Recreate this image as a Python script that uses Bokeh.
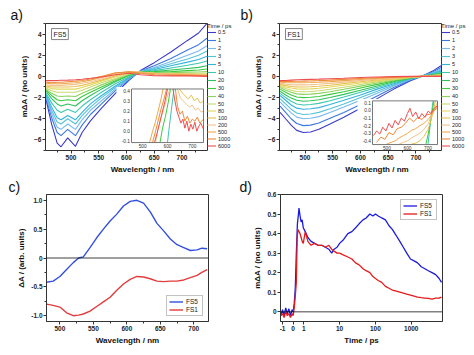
import numpy as np
from bokeh.plotting import figure
from bokeh.models import (Range1d, Legend, LegendItem, Label, FixedTicker, SingleIntervalTicker,
                          Span, CustomJSTickFormatter)
from bokeh.layouts import row, column
from bokeh.embed import file_html
from bokeh.resources import INLINE
from bokeh.core.properties import value

FONT = "Liberation Sans"

# ---------------- data: panels a / b (transient spectra) ----------------
time_labels = ["0.5", "1", "2", "3", "5", "10", "20", "30", "40", "50", "80", "100", "200", "500", "1000", "6000"]
trace_colors = ["#3a3acb", "#3b78dc", "#78b9ef", "#55c3d8", "#36b3dd", "#3fc6b0", "#2fc35a", "#3ccb3c",
                "#8ed25e", "#c6da6e", "#e3d85c", "#e8c24e", "#f1c38e", "#f0a84c", "#ef8a3a", "#ef4f4f"]

wl_a = [455, 465, 475, 482, 494, 508, 520, 535, 555, 580, 605, 625, 650, 680, 710, 730, 745]
fs5_0p5 = [-2.2, -4.5, -6.3, -6.65, -5.8, -6.6, -5.3, -4.2, -3.0, -1.6, -0.35, 0.55, 1.3, 2.3, 3.4, 4.1, 5.0]
fs5_1 = [-2.0, -3.9, -5.3, -5.6, -5.0, -5.6, -4.6, -3.6, -2.6, -1.35, -0.25, 0.5, 1.0, 1.7, 2.5, 3.0, 3.6]
fs5_2 = [-1.9, -3.5, -4.8, -5.0, -4.5, -5.0, -4.1, -3.2, -2.3, -1.2, -0.2, 0.48, 0.85, 1.4, 2.0, 2.4, 2.9]
fs5_3 = [-1.8, -3.2, -4.3, -4.5, -4.0, -4.5, -3.7, -2.9, -2.0, -1.05, -0.15, 0.45, 0.75, 1.2, 1.65, 2.0, 2.4]
fs5_5 = [-1.7, -2.9, -3.9, -4.1, -3.7, -4.1, -3.4, -2.6, -1.8, -0.9, -0.1, 0.42, 0.65, 1.0, 1.35, 1.6, 1.9]
fs5_10 = [-1.6, -2.5, -3.2, -3.4, -3.1, -3.4, -2.8, -2.2, -1.5, -0.7, 0.0, 0.4, 0.55, 0.8, 1.05, 1.25, 1.45]
fs5_20 = [-1.4, -2.1, -2.6, -2.8, -2.6, -2.8, -2.3, -1.8, -1.2, -0.5, 0.1, 0.4, 0.45, 0.6, 0.75, 0.85, 1.0]
fs5_30 = [-1.3, -1.8, -2.2, -2.3, -2.2, -2.3, -1.9, -1.5, -1.0, -0.4, 0.15, 0.4, 0.4, 0.45, 0.55, 0.6, 0.7]
fs5_40 = [-1.2, -1.6, -1.85, -1.9, -1.85, -1.9, -1.6, -1.25, -0.8, -0.3, 0.2, 0.4, 0.35, 0.35, 0.4, 0.42, 0.45]
fs5_50 = [-1.1, -1.35, -1.5, -1.5, -1.5, -1.5, -1.3, -1.0, -0.6, -0.2, 0.25, 0.4, 0.3, 0.27, 0.28, 0.3, 0.3]
fs5_80 = [-1.0, -1.15, -1.2, -1.2, -1.2, -1.2, -1.05, -0.8, -0.45, -0.05, 0.35, 0.4, 0.3, 0.25, 0.22, 0.2, 0.2]
fs5_100 = [-0.9, -1.0, -1.0, -1.0, -1.0, -0.95, -0.85, -0.65, -0.35, 0.05, 0.4, 0.4, 0.3, 0.25, 0.2, 0.17, 0.15]
fs5_200 = [-0.8, -0.85, -0.85, -0.85, -0.8, -0.75, -0.65, -0.5, -0.25, 0.15, 0.45, 0.4, 0.3, 0.25, 0.22, 0.15, 0.1]
fs5_500 = [-0.65, -0.7, -0.7, -0.7, -0.65, -0.6, -0.5, -0.35, -0.1, 0.3, 0.45, 0.35, 0.25, 0.2, 0.15, 0.1, 0.06]
fs5_1000 = [-0.55, -0.6, -0.55, -0.55, -0.5, -0.45, -0.38, -0.25, 0.0, 0.35, 0.42, 0.3, 0.15, 0.12, 0.1, 0.08, 0.05]
fs5_6000 = [-0.4, -0.4, -0.38, -0.37, -0.35, -0.32, -0.27, -0.18, -0.05, 0.15, 0.3, 0.15, 0.06, 0.05, 0.05, 0.03, 0.0]
fs5_spectra = [fs5_0p5, fs5_1, fs5_2, fs5_3, fs5_5, fs5_10, fs5_20, fs5_30, fs5_40, fs5_50,
               fs5_80, fs5_100, fs5_200, fs5_500, fs5_1000, fs5_6000]

wl_b = [455, 465, 475, 485, 497, 510, 525, 545, 570, 600, 630, 660, 690, 712, 730, 745]
fs1_0p5 = [-3.4, -4.0, -4.6, -5.1, -5.3, -5.25, -5.0, -4.5, -3.85, -3.0, -2.1, -1.2, -0.4, 0.05, 0.5, 1.0]
fs1_1 = [-2.8, -3.4, -4.0, -4.45, -4.65, -4.6, -4.4, -3.95, -3.4, -2.65, -1.85, -1.05, -0.35, 0.05, 0.42, 0.85]
fs1_2 = [-2.4, -2.95, -3.45, -3.85, -4.0, -3.95, -3.8, -3.4, -2.9, -2.25, -1.6, -0.9, -0.3, 0.05, 0.35, 0.7]
fs1_3 = [-2.1, -2.6, -3.1, -3.45, -3.6, -3.55, -3.4, -3.05, -2.6, -2.0, -1.4, -0.8, -0.25, 0.04, 0.3, 0.6]
fs1_5 = [-1.8, -2.25, -2.7, -3.0, -3.1, -3.05, -2.95, -2.65, -2.25, -1.75, -1.2, -0.7, -0.22, 0.03, 0.25, 0.5]
fs1_10 = [-1.6, -2.0, -2.35, -2.6, -2.7, -2.65, -2.55, -2.3, -1.95, -1.5, -1.05, -0.6, -0.2, 0.02, 0.2, 0.4]
fs1_20 = [-1.4, -1.75, -2.05, -2.25, -2.35, -2.3, -2.2, -2.0, -1.7, -1.3, -0.9, -0.5, -0.17, 0.02, 0.15, 0.3]
fs1_30 = [-1.2, -1.5, -1.75, -1.95, -2.0, -1.97, -1.9, -1.7, -1.45, -1.1, -0.75, -0.42, -0.15, 0.01, 0.12, 0.25]
fs1_40 = [-1.05, -1.3, -1.5, -1.65, -1.7, -1.67, -1.6, -1.45, -1.22, -0.92, -0.62, -0.35, -0.12, 0.01, 0.1, 0.2]
fs1_50 = [-0.95, -1.15, -1.3, -1.42, -1.45, -1.42, -1.35, -1.22, -1.02, -0.77, -0.52, -0.3, -0.1, 0.0, 0.07, 0.15]
fs1_80 = [-0.85, -1.0, -1.1, -1.18, -1.2, -1.18, -1.12, -1.0, -0.83, -0.62, -0.42, -0.24, -0.08, 0.0, 0.05, 0.1]
fs1_100 = [-0.75, -0.87, -0.95, -0.99, -1.0, -0.98, -0.93, -0.83, -0.68, -0.5, -0.34, -0.2, -0.07, 0.0, 0.04, 0.08]
fs1_200 = [-0.65, -0.73, -0.78, -0.8, -0.8, -0.78, -0.74, -0.66, -0.54, -0.4, -0.27, -0.15, -0.05, 0.0, 0.03, 0.05]
fs1_500 = [-0.55, -0.58, -0.6, -0.6, -0.6, -0.58, -0.55, -0.49, -0.4, -0.29, -0.19, -0.1, -0.03, 0.0, 0.02, 0.03]
fs1_1000 = [-0.48, -0.48, -0.47, -0.46, -0.45, -0.43, -0.4, -0.35, -0.28, -0.2, -0.13, -0.07, -0.02, 0.0, 0.01, 0.02]
fs1_6000 = [-0.4, -0.38, -0.35, -0.32, -0.3, -0.28, -0.26, -0.22, -0.17, -0.1, -0.05, -0.02, 0.0, 0.0, 0.0, 0.0]
fs1_spectra = [fs1_0p5, fs1_1, fs1_2, fs1_3, fs1_5, fs1_10, fs1_20, fs1_30, fs1_40, fs1_50,
               fs1_80, fs1_100, fs1_200, fs1_500, fs1_1000, fs1_6000]

# inset of panel a (zoom near zero)
ia_red_l_x = [548, 558, 568, 578, 590, 600]
ia_red_l_y = [-0.11, -0.02, 0.08, 0.18, 0.3, 0.42]
ia_500_x = [528, 540, 552, 562, 572, 582]
ia_500_y = [-0.11, 0.0, 0.1, 0.2, 0.3, 0.42]
ia_1000_x = [540, 552, 564, 574, 586, 596]
ia_1000_y = [-0.11, 0.0, 0.12, 0.22, 0.32, 0.42]
ia_200_x = [552, 562, 575, 588, 600, 610]
ia_200_y = [-0.11, 0.02, 0.14, 0.25, 0.35, 0.42]
ia_30_x = [570, 580, 592, 604, 612]
ia_30_y = [-0.11, 0.03, 0.15, 0.3, 0.42]
ia_10_x = [600, 608, 616, 626]
ia_10_y = [-0.11, 0.06, 0.22, 0.42]
ia_100r_x = [648, 660, 672, 684, 696, 708, 720, 732, 745]
ia_100r_y = [0.42, 0.38, 0.35, 0.32, 0.36, 0.3, 0.33, 0.28, 0.3]
ia_200r_x = [640, 652, 664, 676, 688, 700, 712, 724, 736, 745]
ia_200r_y = [0.42, 0.33, 0.3, 0.27, 0.24, 0.26, 0.21, 0.23, 0.19, 0.2]
ia_1000r_x = [632, 640, 650, 660, 670, 680, 690, 700, 710, 720, 730, 745]
ia_1000r_y = [0.42, 0.25, 0.17, 0.2, 0.1, 0.15, 0.08, 0.12, 0.1, 0.14, 0.08, 0.12]
ia_6000r_x = [622, 630, 638, 646, 654, 662, 670, 678, 686, 694, 702, 710, 718, 726, 734, 745]
ia_6000r_y = [0.42, 0.3, 0.2, 0.14, 0.08, 0.12, 0.03, 0.1, 0.0, 0.07, 0.02, 0.09, 0.0, 0.05, 0.08, 0.02]
inset_a_lines = [(5, ia_10_x, ia_10_y), (7, ia_30_x, ia_30_y), (12, ia_200_x, ia_200_y),
                 (13, ia_500_x, ia_500_y), (14, ia_1000_x, ia_1000_y), (15, ia_red_l_x, ia_red_l_y),
                 (11, ia_100r_x, ia_100r_y), (12, ia_200r_x, ia_200r_y), (14, ia_1000r_x, ia_1000r_y),
                 (15, ia_6000r_x, ia_6000r_y)]
inset_a_yticks = [0.4, 0.3, 0.2, 0.1, 0.0, -0.1]
inset_a_ylabels = ["0.4", "0.3", "0.2", "0.1", "0.0", "-0.1"]

# inset of panel b
ib_6000_x = [435, 450, 465, 480, 495, 510, 525, 540, 555, 570, 585, 600, 612, 625, 640, 655, 670, 685, 700, 715, 730, 745]
ib_6000_y = [-0.33, -0.27, -0.31, -0.22, -0.27, -0.17, -0.23, -0.13, -0.19, -0.1, -0.14, -0.04, 0.03, -0.08, -0.02, -0.11, -0.04, -0.09, -0.01, -0.04, 0.03, 0.06]
ib_1000_x = [450, 470, 490, 510, 530, 550, 570, 590, 610, 630, 650, 670, 690, 710, 730, 745]
ib_1000_y = [-0.42, -0.35, -0.38, -0.29, -0.32, -0.24, -0.22, -0.17, -0.1, -0.15, -0.09, -0.12, -0.06, -0.05, 0.0, 0.03]
ib_500_x = [500, 520, 540, 560, 580, 600, 620, 640, 660, 680, 700, 720, 735, 745]
ib_500_y = [-0.44, -0.42, -0.4, -0.36, -0.33, -0.3, -0.26, -0.24, -0.2, -0.17, -0.12, -0.05, 0.02, 0.06]
ib_200_x = [560, 580, 600, 620, 640, 660, 680, 700, 715, 730, 745]
ib_200_y = [-0.44, -0.42, -0.4, -0.36, -0.33, -0.3, -0.25, -0.18, -0.08, 0.02, 0.1]
ib_100_x = [620, 640, 660, 680, 700, 712, 725, 735]
ib_100_y = [-0.44, -0.43, -0.4, -0.34, -0.25, -0.15, -0.02, 0.12]
ib_30_x = [690, 700, 710, 720, 728]
ib_30_y = [-0.44, -0.32, -0.18, -0.02, 0.12]
ib_10_x = [700, 708, 716, 724]
ib_10_y = [-0.44, -0.25, -0.05, 0.12]
inset_b_lines = [(5, ib_10_x, ib_10_y), (7, ib_30_x, ib_30_y), (11, ib_100_x, ib_100_y),
                 (12, ib_200_x, ib_200_y), (13, ib_500_x, ib_500_y), (14, ib_1000_x, ib_1000_y),
                 (15, ib_6000_x, ib_6000_y)]
inset_b_yticks = [0.1, 0.0, -0.1, -0.2, -0.3, -0.4]
inset_b_ylabels = ["0.1", "0.0", "-0.1", "-0.2", "-0.3", "-0.4"]
inset_xticks = [500, 600, 700]
inset_xlabels = ["500", "600", "700"]

# ---------------- data: panel c ----------------
wl_c = [480, 490, 500, 510, 520, 528, 535, 545, 555, 565, 575, 585, 595, 605, 615, 625, 635, 645, 655, 665, 675, 685, 695, 705, 712, 720]
c_fs5 = [-0.42, -0.4, -0.32, -0.2, -0.08, 0.0, 0.02, 0.18, 0.35, 0.5, 0.64, 0.76, 0.9, 0.98, 1.0, 0.95, 0.8, 0.6, 0.47, 0.33, 0.23, 0.18, 0.13, 0.14, 0.17, 0.16]
c_fs1 = [-0.8, -0.82, -0.85, -0.95, -1.0, -0.99, -0.97, -0.92, -0.84, -0.76, -0.68, -0.56, -0.45, -0.37, -0.32, -0.33, -0.36, -0.4, -0.41, -0.4, -0.4, -0.38, -0.34, -0.3, -0.25, -0.2]

# ---------------- data: panel d ----------------
t_d5 = [-1.15, -1.0, -0.85, -0.7, -0.55, -0.4, -0.25, -0.1, 0.0, 0.1, 0.2, 0.3, 0.4, 0.5, 0.55, 0.65, 0.75, 0.85, 0.95,
        1.1, 1.3, 1.6, 2.0, 2.5, 3.2, 4.0, 5.0, 6.0, 7.0, 8.5, 10, 13, 17, 22, 28, 35, 45, 55, 70,
        85, 100, 120, 150, 190, 240, 300, 380, 480, 600, 750, 950, 1200, 1500, 1900, 2400, 3000, 3800, 4800, 6000, 7000]
d_fs5 = [-0.02, 0.01, -0.02, 0.02, -0.01, 0.015, -0.02, 0.01, 0.0, 0.04, 0.12, 0.3, 0.45, 0.5, 0.53, 0.49, 0.46, 0.47, 0.43,
         0.41, 0.38, 0.36, 0.35, 0.34, 0.34, 0.33, 0.32, 0.30, 0.32, 0.33, 0.35, 0.37, 0.4, 0.41, 0.43, 0.45, 0.47, 0.48, 0.5,
         0.49, 0.5, 0.49, 0.48, 0.47, 0.44, 0.42, 0.39, 0.36, 0.33, 0.3, 0.27, 0.26, 0.25, 0.23, 0.22, 0.21, 0.2, 0.19, 0.17, 0.15]
t_d1 = [-1.15, -1.0, -0.85, -0.7, -0.55, -0.4, -0.25, -0.1, 0.0, 0.1, 0.2, 0.3, 0.38, 0.45, 0.55, 0.65, 0.75, 0.85, 0.95,
        1.1, 1.3, 1.6, 2.0, 2.5, 3.2, 4.0, 5.0, 6.0, 7.0, 8.5, 10, 13, 17, 22, 28, 35, 45, 55, 70,
        85, 100, 120, 150, 190, 240, 300, 380, 480, 600, 750, 950, 1200, 1500, 1900, 2400, 3000, 3800, 4800, 6000, 7000]
d_fs1 = [-0.02, -0.01, -0.03, 0.0, -0.02, -0.01, -0.03, -0.01, -0.02, 0.02, 0.08, 0.15, 0.38, 0.42, 0.41, 0.4, 0.38, 0.36, 0.35,
         0.41, 0.36, 0.34, 0.35, 0.34, 0.34, 0.33, 0.34, 0.32, 0.31, 0.3, 0.3, 0.29, 0.28, 0.27, 0.25, 0.24, 0.22, 0.21, 0.2,
         0.18, 0.17, 0.16, 0.15, 0.13, 0.12, 0.11, 0.105, 0.1, 0.095, 0.09, 0.085, 0.08, 0.075, 0.072, 0.07, 0.068, 0.065, 0.07, 0.07, 0.075]
d_tick_times = [-1, 0, 1, 10, 100, 1000]
d_yticks = [0.0, 0.1, 0.2, 0.3, 0.4, 0.5, 0.6]

# ---------------- helpers ----------------
PLOT_W = 162     # width of the plotted box in px
FRAME_H = 129


def style_axes(p):
    for ax in (p.xaxis[0], p.yaxis[0]):
        ax.axis_line_color = "#333333"
        ax.major_tick_line_color = "#333333"
        ax.minor_tick_line_color = "#333333"
        ax.major_tick_in = 0
        ax.major_tick_out = 3
        ax.minor_tick_in = 0
        ax.minor_tick_out = 2
        ax.major_label_text_font = FONT
        ax.major_label_text_font_style = "bold"
        ax.major_label_text_font_size = "6.5px"
        ax.major_label_text_color = "#222222"
        ax.axis_label_text_font = FONT
        ax.axis_label_text_font_style = "bold"
        ax.axis_label_text_font_size = "8px"
        ax.axis_label_text_color = "#111111"
        ax.major_label_standoff = 1
        ax.axis_label_standoff = 2


def base_fig(xr, yr, width, height, bl, br, bt, bb):
    p = figure(width=width, height=height, x_range=xr, y_range=yr,
               output_backend="svg", toolbar_location=None,
               min_border_left=bl, min_border_right=br, min_border_top=bt, min_border_bottom=bb)
    p.xgrid.visible = False
    p.ygrid.visible = False
    p.outline_line_color = "#333333"
    p.outline_line_width = 1
    p.background_fill_color = "white"
    p.border_fill_color = "white"
    style_axes(p)
    return p


def letter(p, txt, dx):
    p.title.text = txt
    p.title.align = "left"
    p.title.offset = dx
    p.title.standoff = 0
    p.title.text_font = FONT
    p.title.text_font_size = "14px"
    p.title.text_font_style = "normal"
    p.title.text_color = "#111111"


def sub_range(lo, hi, p0, p1, n):
    s = (hi - lo) / (p1 - p0)
    return Range1d(lo - p0 * s, hi + (n - p1) * s), s


def style_legend(leg, h):
    leg.label_text_font = FONT
    leg.label_text_font_size = "5.5px"
    leg.label_text_color = "#222222"
    leg.glyph_width = 9
    leg.glyph_height = h
    leg.label_height = h
    leg.label_width = 10
    leg.label_standoff = 2
    leg.spacing = 0
    leg.padding = 0
    leg.margin = 0
    leg.border_line_color = None
    leg.background_fill_alpha = 0


def spectra_panel(wl, spectra, tag, inset_lines, ix, iy, ipx, ipy, yticks, ylabels, bl, leg_w):
    # the frame includes a strip on the right that holds the legend; the plot box is drawn as a quad
    frame_w = PLOT_W + leg_w
    x0, x1 = 454, 746
    y0, y1 = -7, 5
    x_end = x0 + frame_w * (x1 - x0) / PLOT_W
    y_end = y1 + 1.0 * (y1 - y0) / FRAME_H
    p = base_fig(Range1d(x0, x_end), Range1d(y0, y_end), bl + frame_w, 22 + FRAME_H + 25, bl, 0, 22, 25)
    p.outline_line_color = None
    p.xaxis.bounds = (x0, x1)
    p.yaxis.bounds = (y0, y1)
    p.xaxis.ticker = SingleIntervalTicker(interval=50, num_minor_ticks=2)
    p.yaxis.ticker = SingleIntervalTicker(interval=2, num_minor_ticks=2)
    p.xaxis.axis_label = "Wavelength / nm"
    p.yaxis.axis_label = "m\u0394A / (no units)"
    rends = []
    for ys, col in zip(spectra, trace_colors):
        rends.append(p.line(wl, ys, line_color=col, line_width=1.1))
    p.quad(left=[x0], right=[x1], bottom=[y0], top=[y1], fill_color=None, line_color="#333333", line_width=1)
    # inset (drawn in its own ranges inside the frame)
    xr, sx = sub_range(ix[0], ix[1], ipx[0], ipx[1], frame_w)
    yr, sy = sub_range(iy[0], iy[1], ipy[0], ipy[1], FRAME_H)
    p.extra_x_ranges = {"ins": xr}
    p.extra_y_ranges = {"ins": yr}
    p.quad(left=[ix[0] - 15 * sx], right=[ix[1] + 2 * sx], bottom=[iy[0] - 10 * sy], top=[iy[1] + 2 * sy],
           fill_color="white", line_color=None, x_range_name="ins", y_range_name="ins")
    for idx, xs, ys in inset_lines:
        p.line(xs, ys, line_color=trace_colors[idx], line_width=1.0, x_range_name="ins", y_range_name="ins")
    p.quad(left=[ix[0]], right=[ix[1]], bottom=[iy[0]], top=[iy[1]], fill_color=None,
           line_color="#555555", line_width=0.8, x_range_name="ins", y_range_name="ins")
    p.text(x=[ix[0]] * len(yticks), y=yticks, text=ylabels, x_offset=-1.5, text_align="right",
           text_baseline="middle", text_font_size="4.8px", text_font=value(FONT), text_color="#333333",
           x_range_name="ins", y_range_name="ins")
    p.text(x=inset_xticks, y=[iy[0]] * 3, text=inset_xlabels, y_offset=1.5, text_align="center",
           text_baseline="top", text_font_size="4.8px", text_font=value(FONT), text_color="#333333",
           x_range_name="ins", y_range_name="ins")
    p.add_layout(Label(x=480, y=4.0, text=tag, text_font=FONT, text_font_size="7px",
                       text_align="center", text_baseline="middle", text_color="#222222",
                       border_line_color="#666666", border_line_width=0.8, background_fill_color="white",
                       padding=2))
    # legend title + two legend blocks (8 px and 7 px rows) in the strip right of the box
    p.add_layout(Label(x=x1 - 0.5 * (x1 - x0) / PLOT_W, y=y1 - 2.5 * (y1 - y0) / FRAME_H, text="Time / ps",
                       text_font=FONT, text_font_size="6px", text_align="left", text_baseline="middle",
                       text_color="#222222"))
    items = [LegendItem(label=l, renderers=[r]) for l, r in zip(time_labels, rends)]
    leg1 = Legend(items=items[:9], location=(PLOT_W, FRAME_H - 7 - 72))
    leg2 = Legend(items=items[9:], location=(PLOT_W, FRAME_H - 79 - 49))
    style_legend(leg1, 8)
    style_legend(leg2, 7)
    p.add_layout(leg1)
    p.add_layout(leg2)
    return p


# ---------------- panel a ----------------
pa = spectra_panel(wl_a, fs5_spectra, "FS5", inset_a_lines,
                   (455, 745), (-0.113, 0.42), (86, 158), (8, 62),
                   inset_a_yticks, inset_a_ylabels, 45, 32)
letter(pa, "a)", -35)

# ---------------- panel b ----------------
pb = spectra_panel(wl_b, fs1_spectra, "FS1", inset_b_lines,
                   (430, 746), (-0.448, 0.126), (93, 158), (6, 50),
                   inset_b_yticks, inset_b_ylabels, 40, 33)
letter(pb, "b)", -39)

# ---------------- panel c ----------------
pc = base_fig(Range1d(480, 722), Range1d(-1.1, 1.1), 46 + PLOT_W + 31, 16 + FRAME_H + 26, 46, 31, 16, 26)
pc.xaxis.ticker = SingleIntervalTicker(interval=50, num_minor_ticks=2)
pc.yaxis.ticker = SingleIntervalTicker(interval=0.5, num_minor_ticks=2)
pc.yaxis.formatter = CustomJSTickFormatter(code="return Math.abs(tick) < 1e-9 ? '0' : tick.toFixed(1);")
pc.xaxis.axis_label = "Wavelength / nm"
pc.yaxis.axis_label = "\u0394A / (arb. units)"
pc.add_layout(Span(location=0, dimension="width", line_color="#000000", line_dash="1 1", line_width=1.6))
rc5 = pc.line(wl_c, c_fs5, line_color="#3350dd", line_width=1.4)
rc1 = pc.line(wl_c, c_fs1, line_color="#e23c3c", line_width=1.4)
legc = Legend(items=[LegendItem(label="FS5", renderers=[rc5]), LegendItem(label="FS1", renderers=[rc1])],
              location="bottom_right")
letter(pc, "c)", -38)

# ---------------- panel d ----------------
K_DEC = 3.37  # width of one decade relative to one linear unit (axis is linear below 1 ps, log above)


def tmap(t):
    t = np.asarray(t, dtype=float)
    return np.where(t <= 1, t, 1 + np.log10(np.maximum(t, 1)) * K_DEC)


pd_ = base_fig(Range1d(-1.19, 14.05), Range1d(-0.05, 0.6), 41 + PLOT_W + 32, 16 + FRAME_H + 26, 41, 32, 16, 26)
pd_.xaxis.ticker = FixedTicker(ticks=[float(v) for v in tmap(d_tick_times)], minor_ticks=[])
pd_.xaxis.formatter = CustomJSTickFormatter(args={"k": K_DEC}, code="""
    if (tick <= 1.0001) { return tick.toFixed(0); }
    return String(Math.round(Math.pow(10, (tick - 1) / k)));
""")
pd_.yaxis.ticker = FixedTicker(ticks=d_yticks, minor_ticks=[])
pd_.yaxis.formatter = CustomJSTickFormatter(code="return Math.abs(tick) < 1e-9 ? '0' : tick.toFixed(1);")
pd_.xaxis.axis_label = "Time / ps"
pd_.yaxis.axis_label = "m\u0394A / (no units)"
pd_.add_layout(Span(location=0, dimension="width", line_color="#000000", line_dash="1 1", line_width=1.6))
rd5 = pd_.line(tmap(t_d5), d_fs5, line_color="#1a1ae0", line_width=1.3)
rd1 = pd_.line(tmap(t_d1), d_fs1, line_color="#e41a1a", line_width=1.3)
legd = Legend(items=[LegendItem(label="FS5", renderers=[rd5]), LegendItem(label="FS1", renderers=[rd1])],
              location="top_right")
letter(pd_, "d)", -41)

for lg, p in ((legc, pc), (legd, pd_)):
    lg.label_text_font = FONT
    lg.label_text_font_size = "6.5px"
    lg.label_text_color = "#222222"
    lg.glyph_width = 14
    lg.glyph_height = 7
    lg.label_height = 7
    lg.label_width = 14
    lg.label_standoff = 3
    lg.spacing = 1
    lg.padding = 2
    lg.margin = 5
    lg.border_line_color = "#888888"
    lg.border_line_width = 0.8
    lg.background_fill_alpha = 1
    p.add_layout(lg)

layout = column(row(pa, pb), row(pc, pd_))
open("out.html", "w").write(file_html(layout, INLINE))
